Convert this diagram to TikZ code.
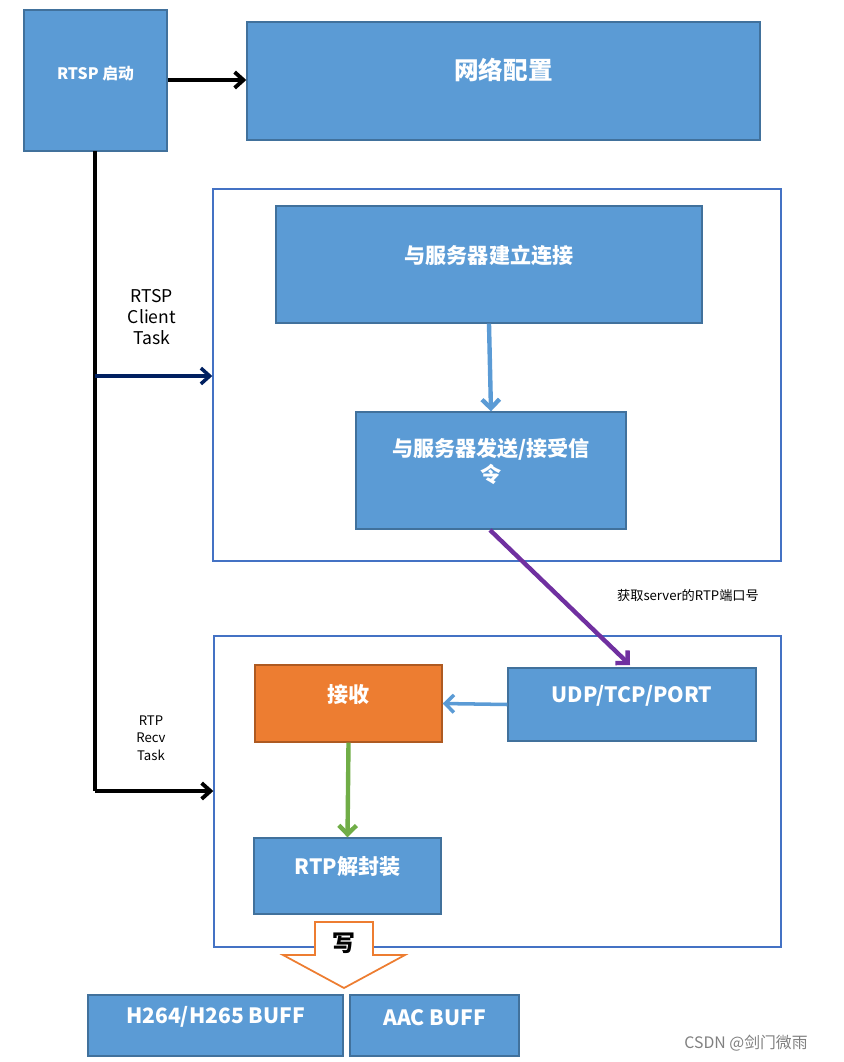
\documentclass[tikz,border=0pt]{standalone}
\usepackage{fontspec}
\setmainfont{Noto Sans CJK SC}
\usetikzlibrary{fit,arrows.meta}
\definecolor{bfill}{HTML}{5B9BD5}
\definecolor{bline}{HTML}{41719C}
\definecolor{ofill}{HTML}{ED7D31}
\definecolor{oline}{HTML}{AE5A21}
\definecolor{frame}{HTML}{4472C4}
\definecolor{purp}{HTML}{7030A0}
\definecolor{grn}{HTML}{70AD47}
\definecolor{navy}{HTML}{002060}
\begin{document}
\begin{tikzpicture}[x=0.02cm,y=-0.02cm,
  box/.style={draw=bline,fill=bfill,line width=0.8pt,inner sep=0pt,text=white,font=\bfseries\fontsize{12}{15}\selectfont,align=center},
  obox/.style={box,draw=oline,fill=ofill},
  frm/.style={draw=frame,line width=0.8pt,inner sep=0pt},
  blk/.style={line width=2.2pt,-{Straight Barb[length=5pt,width=9pt]}},
  lab/.style={font=\fontsize{10}{12}\selectfont,align=center}]
\useasboundingbox (0,0) rectangle (844,1062);
% frames
\node[frm,fit={(213,189)(781,561)}] (f1) {};
\node[frm,fit={(214,636)(781,947)}] (f2) {};
% boxes
\node[box,font=\bfseries\fontsize{9}{11}\selectfont,fit={(24,10)(167,151)}] (start) {RTSP 启动};
\node[box,font=\bfseries\fontsize{14}{17}\selectfont,fit={(247,22)(760,140)}] (net) {网络配置};
\node[box,fit={(276,206)(702,323)}] (conn) {与服务器建立连接};
\node[box,text width=5cm,fit={(356,412)(626,529)}] (sig) {与服务器发送/接受信\\令};
\node[obox,fit={(255,665)(442,742)}] (recv) {接收};
\node[box,fit={(508,668)(756,741)}] (port) {UDP/TCP/PORT};
\node[box,fit={(254,838)(441,914)}] (unpack) {RTP解封装};
\node[box,fit={(88,995)(343,1056)}] (h264) {H264/H265 BUFF};
\node[box,fit={(350,995)(519,1056)}] (aac) {AAC BUFF};
% arrows
\draw[blk] (start.east |- 0,80) -- (net.west |- 0,80);
\coordinate (top) at (95,151);
\coordinate (b1) at (95,376);
\coordinate (b2) at (95,791);
\draw[line width=2.2pt] (top) -- (b2);
\draw[line width=2pt,navy,-{Straight Barb[length=5pt,width=9pt]}] (b1) -- (f1.west |- b1);
\draw[blk] (b2) -- (f2.west |- b2);
\node[lab] (t1) at (152,317) {RTSP\\Client\\Task};
\node[lab,font=\fontsize{7.5}{10}\selectfont] (t2) at (151,738) {RTP\\Recv\\Task};
\draw[bfill,line width=2.5pt,-{Straight Barb[length=5pt,width=10pt]}] (conn.south) -- (sig.north);
\draw[purp,line width=2.5pt,-{Straight Barb[length=5pt,width=10pt]}] (490,530) -- (630,665);
\node[lab,font=\fontsize{7.5}{9}\selectfont] (pl) at (688,595) {获取server的RTP端口号};
\draw[bfill,line width=2pt,-{Straight Barb[length=5pt,width=10pt]}] (port.west) -- (recv.east);
\draw[grn,line width=2.5pt,-{Straight Barb[length=5pt,width=10pt]}] (recv.south) -- (unpack.north);
% hollow write arrow
\draw[ofill,line width=1pt,fill=white] (315,922) -- (373,922) -- (373,955) -- (405,955) -- (344,988) -- (283,955) -- (315,955) -- cycle;
\node[font=\bfseries\fontsize{13}{15}\selectfont] (w) at (344,943) {写};
\node[text=gray,font=\fontsize{9}{11}\selectfont] (wm) at (746,1043) {CSDN @剑门微雨};
\end{tikzpicture}
\end{document}
